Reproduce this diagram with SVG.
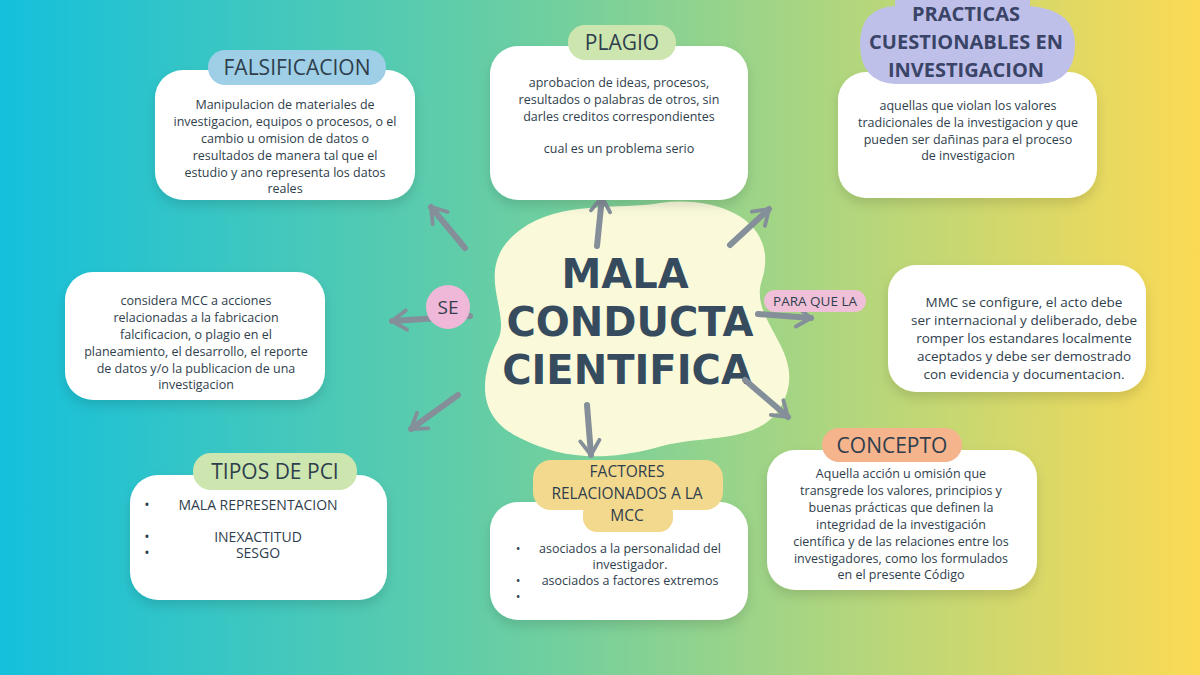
<svg xmlns="http://www.w3.org/2000/svg" width="1200" height="675" viewBox="0 0 1200 675">
<defs>
<linearGradient id="bg" x1="0" y1="0" x2="1" y2="0">
<stop offset="0" stop-color="#14c0dc"/><stop offset="0.45" stop-color="#6ecfa0"/><stop offset="0.7" stop-color="#b0d67e"/><stop offset="1" stop-color="#fbda55"/>
</linearGradient>
<marker id="ah" viewBox="0 0 10 10" refX="7" refY="5" markerWidth="4" markerHeight="4" orient="auto" markerUnits="strokeWidth">
<path d="M1,1 L7,5 L1,9" fill="none" stroke="#848f9a" stroke-width="1.6" stroke-linecap="round" stroke-linejoin="round"/>
</marker>
<filter id="sh" x="-10%" y="-10%" width="120%" height="130%"><feDropShadow dx="0" dy="6" stdDeviation="6" flood-color="#000" flood-opacity="0.12"/></filter>
</defs>
<style>
.card{fill:#fff;filter:url(#sh)}
.t{font-family:"Open Sans","Liberation Sans",sans-serif;font-size:12.5px;fill:#2f3e4c;text-anchor:middle}
.t14{font-size:14px}
.t135{font-size:13.5px}
.lb{font-family:"Open Sans","Liberation Sans",sans-serif;font-size:21px;fill:#2f3e4c;text-anchor:middle}
.lbf{font-size:15.5px}
.lbp{font-size:20px;font-weight:bold;fill:#3a4466}
.ttl{font-family:"DejaVu Sans","Liberation Sans",sans-serif;font-weight:bold;font-size:40px;fill:#364c5e;text-anchor:middle}
.ar{stroke:#848f9a;stroke-width:6;stroke-linecap:round;fill:none;marker-end:url(#ah)}
</style>
<rect width="1200" height="675" fill="url(#bg)"/>
<g id="center">
<path d="M520,230 C560,200 620,210 660,203 C720,195 780,222 762,280 C748,320 805,350 785,398 C765,448 705,432 655,448 C600,462 560,458 520,438 C478,418 478,380 498,340 C512,310 470,268 520,230 Z" fill="#fafadb"/>
<text class="ttl" x="625" y="288">MALA</text>
<text class="ttl" x="630" y="336">CONDUCTA</text>
<text class="ttl" x="627" y="384">CIENTIFICA</text>
</g>
<g id="connectors">
<path class="ar" d="M597,246 L602,197"/>
<path class="ar" d="M730,245 L769,209"/>
<path class="ar" d="M465,248 L431,207"/>
<path class="ar" d="M470,316 L392,321"/>
<path class="ar" d="M758,314 L811,318"/>
<path class="ar" d="M745,380 L788,417"/>
<path class="ar" d="M587,405 L591,455"/>
<path class="ar" d="M458,395 L411,429"/>
</g>
<g id="falsificacion">
<rect class="card" x="155" y="70" width="260" height="130" rx="28"/>
<rect x="208" y="50" width="178" height="35" rx="17" fill="#9ecfe6"/>
<text class="lb" x="297" y="75">FALSIFICACION</text>
<text class="t" x="285" y="109">Manipulacion de materiales de</text>
<text class="t" x="285" y="126">investigacion, equipos o procesos, o el</text>
<text class="t" x="285" y="143">cambio u omision de datos o</text>
<text class="t" x="285" y="160">resultados de manera tal que el</text>
<text class="t" x="285" y="177">estudio y ano representa los datos</text>
<text class="t" x="285" y="193">reales</text>
</g>
<g id="plagio">
<rect class="card" x="490" y="46" width="258" height="154" rx="28"/>
<rect x="568" y="25" width="108" height="35" rx="17" fill="#cde6b0"/>
<text class="lb" x="622" y="50">PLAGIO</text>
<text class="t" x="619" y="87">aprobacion de ideas, procesos,</text>
<text class="t" x="619" y="104">resultados o palabras de otros, sin</text>
<text class="t" x="619" y="121">darles creditos correspondientes</text>
<text class="t" x="619" y="153">cual es un problema serio</text>
</g>
<g id="practicas">
<rect class="card" x="838" y="72" width="259" height="126" rx="28"/>
<path d="M895,0 H1030 V6 Q1075,10 1075,44 Q1075,82 1040,84 H895 Q860,82 860,44 Q860,8 895,6 Z" fill="#bfc0ea"/>
<text class="lb lbp" x="966" y="21">PRACTICAS</text>
<text class="lb lbp" x="966" y="49">CUESTIONABLES EN</text>
<text class="lb lbp" x="966" y="77">INVESTIGACION</text>
<text class="t" x="968" y="110">aquellas que violan los valores</text>
<text class="t" x="968" y="127">tradicionales de la investigacion y que</text>
<text class="t" x="968" y="144">pueden ser dañinas para el proceso</text>
<text class="t" x="968" y="160">de investigacion</text>
</g>
<g id="se">
<rect class="card" x="65" y="272" width="260" height="128" rx="28"/>
<text class="t" x="196" y="305">considera MCC a acciones</text>
<text class="t" x="196" y="322">relacionadas a la fabricacion</text>
<text class="t" x="196" y="339">falcificacion, o plagio en el</text>
<text class="t" x="196" y="356">planeamiento, el desarrollo, el reporte</text>
<text class="t" x="196" y="373">de datos y/o la publicacion de una</text>
<text class="t" x="196" y="389">investigacion</text>
<circle cx="448" cy="307" r="22" fill="#f0b8d8"/>
<text class="lb" x="448" y="314" style="font-size:19px">SE</text>
</g>
<g id="paraquela">
<rect x="764" y="290" width="102" height="22" rx="11" fill="#f0c0d8"/>
<text class="t t135" x="815" y="306">PARA QUE LA</text>
</g>
<g id="mmc">
<rect class="card" x="888" y="265" width="258" height="127" rx="28"/>
<text class="t t135" x="1024" y="307">MMC se configure, el acto debe</text>
<text class="t t135" x="1024" y="325">ser internacional y deliberado, debe</text>
<text class="t t135" x="1024" y="343">romper los estandares localmente</text>
<text class="t t135" x="1024" y="361">aceptados y debe ser demostrado</text>
<text class="t t135" x="1024" y="379">con evidencia y documentacion.</text>
</g>
<g id="concepto">
<rect class="card" x="767" y="450" width="270" height="140" rx="28"/>
<rect x="822" y="428" width="140" height="34" rx="17" fill="#f5b48c"/>
<text class="lb" x="892" y="453">CONCEPTO</text>
<text class="t" x="901" y="478">Aquella acción u omisión que</text>
<text class="t" x="901" y="495">transgrede los valores, principios y</text>
<text class="t" x="901" y="512">buenas prácticas que definen la</text>
<text class="t" x="901" y="529">integridad de la investigación</text>
<text class="t" x="901" y="546">científica y de las relaciones entre los</text>
<text class="t" x="901" y="563">investigadores, como los formulados</text>
<text class="t" x="901" y="579">en el presente Código</text>
</g>
<g id="tipos">
<rect class="card" x="130" y="475" width="257" height="125" rx="28"/>
<rect x="193" y="453" width="164" height="37" rx="18" fill="#cde6b0"/>
<text class="lb" x="275" y="479">TIPOS DE PCI</text>
<text class="t t14" x="147" y="510">•</text>
<text class="t t14" x="258" y="510">MALA REPRESENTACION</text>
<text class="t t14" x="147" y="542">•</text>
<text class="t t14" x="258" y="542">INEXACTITUD</text>
<text class="t t14" x="147" y="558">•</text>
<text class="t t14" x="258" y="558">SESGO</text>
</g>
<g id="factores">
<rect class="card" x="490" y="502" width="258" height="118" rx="28"/>
<rect x="533" y="460" width="190" height="50" rx="18" fill="#f2d98e"/>
<rect x="583" y="500" width="90" height="32" rx="14" fill="#f2d98e"/>
<text class="lb lbf" x="627" y="477">FACTORES</text>
<text class="lb lbf" x="627" y="499">RELACIONADOS A LA</text>
<text class="lb lbf" x="627" y="521">MCC</text>
<text class="t" x="518" y="553">•</text>
<text class="t" x="630" y="553">asociados a la personalidad del</text>
<text class="t" x="630" y="569">investigador.</text>
<text class="t" x="518" y="585">•</text>
<text class="t" x="630" y="585">asociados a factores extremos</text>
<text class="t" x="518" y="601">•</text>
</g>
</svg>
